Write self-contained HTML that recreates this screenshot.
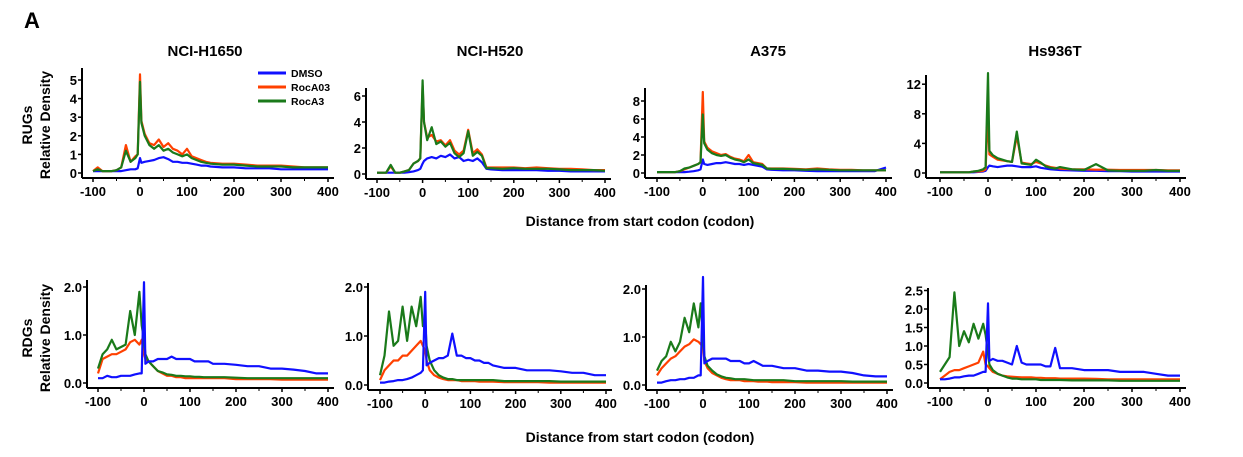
<!DOCTYPE html>
<html><head><meta charset="utf-8"><style>
body{margin:0;background:#fff;}
svg{display:block;font-family:"Liberation Sans",Arial,sans-serif;}
</style></head><body>
<svg id="fig" width="1243" height="457" viewBox="0 0 1243 457">
<text x="24" y="28" font-size="22" font-weight="bold">A</text>
<text x="640" y="226" font-size="14" font-weight="bold" text-anchor="middle">Distance from start codon (codon)</text>
<text x="640" y="442" font-size="14" font-weight="bold" text-anchor="middle">Distance from start codon (codon)</text>
<text transform="translate(32,125) rotate(-90)" font-size="14" font-weight="bold" text-anchor="middle">RUGs</text>
<text transform="translate(50,125) rotate(-90)" font-size="14" font-weight="bold" text-anchor="middle">Relative Density</text>
<text transform="translate(32,338) rotate(-90)" font-size="14" font-weight="bold" text-anchor="middle">RDGs</text>
<text transform="translate(50,338) rotate(-90)" font-size="14" font-weight="bold" text-anchor="middle">Relative Density</text>
<g>
<line x1="258" y1="73" x2="286" y2="73" stroke="#1010ff" stroke-width="3"/>
<text x="291" y="77" font-size="10.5" font-weight="bold">DMSO</text>
<line x1="258" y1="87" x2="286" y2="87" stroke="#ff4000" stroke-width="3"/>
<text x="291" y="91" font-size="10.5" font-weight="bold">RocA03</text>
<line x1="258" y1="101" x2="286" y2="101" stroke="#1a7a1a" stroke-width="3"/>
<text x="291" y="105" font-size="10.5" font-weight="bold">RocA3</text>
</g>
</svg>
<script>
const positions=[-100,-90,-80,-70,-60,-50,-40,-30,-20,-10,-5,0,3,10,20,30,40,50,60,70,80,90,100,110,120,130,140,150,175,200,225,250,275,300,325,350,375,400];
const cellLines=["NCI-H1650","NCI-H520","A375","Hs936T"];
const xTicks=[-100,0,100,200,300,400];
const yTicksTop=[[0,1,2,3,4,5],[0,2,4,6],[0,2,4,6,8],[0,4,8,12]];
const yTicksBottom=[[0,1,2],[0,1,2],[0,1,2],[0,0.5,1,1.5,2,2.5]];
const yLabelsBottom=[["0.0","1.0","2.0"],["0.0","1.0","2.0"],["0.0","1.0","2.0"],["0.0","0.5","1.0","1.5","2.0","2.5"]];
// RUGs
const t1Dmso=[0.1,0.1,0.1,0.1,0.1,0.1,0.1,0.15,0.2,0.2,0.25,0.8,0.55,0.6,0.65,0.7,0.8,0.85,0.75,0.6,0.6,0.55,0.55,0.5,0.45,0.4,0.4,0.35,0.3,0.3,0.25,0.25,0.25,0.2,0.2,0.2,0.2,0.2];
const t1RocA03=[0.1,0.3,0.1,0.1,0.1,0.15,0.3,1.5,0.6,0.9,1.0,5.3,2.8,2.1,1.6,1.5,1.8,1.4,1.6,1.3,1.2,1.0,1.3,0.9,0.8,0.7,0.6,0.55,0.5,0.5,0.45,0.4,0.4,0.4,0.35,0.3,0.3,0.3];
const t1RocA3=[0.1,0.2,0.1,0.1,0.1,0.15,0.3,1.2,0.6,0.8,1.0,4.9,2.7,2.0,1.5,1.3,1.5,1.2,1.3,1.1,1.0,0.9,1.0,0.8,0.7,0.6,0.55,0.5,0.45,0.45,0.4,0.35,0.35,0.35,0.3,0.3,0.3,0.3];
const t2Dmso=[0.1,0.1,0.1,0.1,0.1,0.1,0.1,0.15,0.2,0.3,0.4,0.8,1.0,1.2,1.3,1.2,1.4,1.3,1.5,1.2,1.3,1.0,1.1,1.0,1.2,0.9,0.4,0.35,0.3,0.3,0.3,0.3,0.25,0.25,0.2,0.2,0.2,0.2];
const t2RocA03=[0.1,0.1,0.1,0.6,0.1,0.1,0.2,0.3,0.8,1.0,1.2,6.8,4.0,2.8,3.0,2.5,2.6,2.2,2.6,1.8,1.5,1.8,3.4,1.6,1.9,1.5,0.5,0.5,0.5,0.5,0.45,0.5,0.45,0.4,0.4,0.35,0.3,0.3];
const t2RocA3=[0.1,0.1,0.1,0.7,0.1,0.1,0.2,0.3,0.8,1.0,1.2,7.2,4.0,2.6,3.6,2.3,2.5,2.1,2.4,1.6,1.3,1.6,3.3,1.4,1.7,1.4,0.45,0.45,0.4,0.45,0.4,0.4,0.4,0.35,0.3,0.3,0.3,0.25];
const t3Dmso=[0.1,0.1,0.1,0.1,0.1,0.1,0.1,0.15,0.2,0.3,0.4,1.5,1.0,0.9,1.0,1.1,1.1,1.2,1.1,1.0,1.0,0.9,1.0,0.9,0.8,0.7,0.4,0.35,0.3,0.3,0.25,0.2,0.2,0.2,0.2,0.2,0.2,0.6];
const t3RocA03=[0.1,0.1,0.1,0.1,0.1,0.2,0.4,0.6,0.8,1.0,1.2,9.0,3.5,2.8,2.4,2.2,2.0,2.1,1.8,1.6,1.5,1.3,2.0,1.2,1.1,1.0,0.5,0.5,0.5,0.45,0.4,0.5,0.4,0.35,0.35,0.3,0.3,0.3];
const t3RocA3=[0.1,0.1,0.1,0.1,0.1,0.2,0.5,0.6,0.8,1.0,1.2,6.5,3.3,2.6,2.2,2.0,1.9,2.0,1.7,1.5,1.4,1.2,1.5,1.1,1.0,0.9,0.5,0.45,0.45,0.4,0.35,0.4,0.35,0.3,0.3,0.3,0.3,0.3];
const t4Dmso=[0.1,0.1,0.1,0.1,0.1,0.1,0.1,0.1,0.15,0.2,0.3,0.8,1.0,0.9,0.8,0.9,1.0,1.0,0.9,0.8,0.8,0.8,0.9,0.7,0.6,0.5,0.45,0.4,0.35,0.3,0.3,0.25,0.25,0.2,0.2,0.2,0.2,0.2];
const t4RocA03=[0.1,0.1,0.1,0.1,0.1,0.1,0.1,0.2,0.2,0.3,0.5,8.2,2.5,2.2,1.8,1.7,1.6,1.5,5.0,1.4,1.3,1.2,1.5,1.3,1.0,0.8,0.7,0.6,0.5,0.5,0.45,0.45,0.4,0.4,0.4,0.4,0.35,0.35];
const t4RocA3=[0.1,0.1,0.1,0.1,0.1,0.1,0.1,0.2,0.3,0.5,0.8,13.5,3.0,2.4,2.0,1.8,1.6,1.5,5.6,1.3,1.2,1.1,1.8,1.4,0.9,0.7,0.6,0.8,0.5,0.4,1.2,0.35,0.3,0.3,0.3,0.4,0.3,0.3];
// RDGs
const b1Dmso=[0.1,0.1,0.15,0.12,0.12,0.15,0.15,0.15,0.18,0.2,0.2,2.1,0.4,0.45,0.45,0.5,0.5,0.5,0.55,0.5,0.5,0.5,0.5,0.45,0.45,0.45,0.45,0.4,0.4,0.38,0.35,0.35,0.3,0.3,0.28,0.25,0.2,0.2];
const b1RocA03=[0.2,0.5,0.55,0.6,0.6,0.65,0.7,0.85,0.9,0.8,0.9,0.6,0.5,0.45,0.35,0.25,0.2,0.15,0.15,0.12,0.12,0.1,0.1,0.1,0.1,0.1,0.1,0.1,0.1,0.08,0.08,0.08,0.08,0.07,0.07,0.07,0.07,0.07];
const b1RocA3=[0.3,0.6,0.7,0.9,0.7,0.75,0.8,1.5,1.0,1.9,1.2,0.9,0.6,0.45,0.35,0.25,0.22,0.18,0.17,0.15,0.15,0.14,0.14,0.13,0.13,0.12,0.12,0.12,0.12,0.11,0.1,0.1,0.1,0.1,0.1,0.1,0.1,0.1];
const b2Dmso=[0.05,0.05,0.07,0.08,0.1,0.1,0.12,0.15,0.2,0.25,0.3,1.9,0.4,0.45,0.5,0.55,0.55,0.6,1.05,0.6,0.6,0.55,0.55,0.5,0.5,0.45,0.45,0.4,0.35,0.35,0.3,0.3,0.3,0.28,0.25,0.25,0.2,0.2];
const b2RocA03=[0.1,0.3,0.4,0.5,0.5,0.6,0.6,0.7,0.8,0.9,0.8,0.7,0.5,0.3,0.2,0.15,0.12,0.1,0.1,0.1,0.08,0.08,0.08,0.08,0.07,0.07,0.07,0.07,0.06,0.06,0.06,0.06,0.05,0.05,0.05,0.05,0.05,0.05];
const b2RocA3=[0.2,0.6,1.5,0.8,0.9,1.6,0.9,1.6,1.2,1.8,1.2,1.3,0.8,0.5,0.3,0.2,0.15,0.12,0.12,0.1,0.1,0.1,0.1,0.1,0.1,0.1,0.1,0.1,0.08,0.08,0.08,0.08,0.08,0.07,0.07,0.07,0.07,0.07];
const b3Dmso=[0.05,0.05,0.08,0.1,0.1,0.12,0.12,0.15,0.15,0.2,0.2,2.25,0.45,0.5,0.55,0.55,0.55,0.55,0.5,0.5,0.5,0.45,0.45,0.5,0.45,0.4,0.4,0.4,0.35,0.35,0.3,0.3,0.28,0.28,0.25,0.2,0.18,0.18];
const b3RocA03=[0.2,0.35,0.45,0.55,0.6,0.7,0.8,0.85,0.95,0.9,0.85,0.8,0.5,0.35,0.25,0.2,0.15,0.12,0.1,0.1,0.1,0.08,0.08,0.08,0.07,0.07,0.07,0.06,0.06,0.06,0.05,0.05,0.05,0.05,0.05,0.05,0.05,0.05];
const b3RocA3=[0.3,0.5,0.6,0.9,0.7,0.9,1.4,1.1,1.7,1.2,1.7,1.0,0.6,0.4,0.3,0.22,0.18,0.15,0.14,0.12,0.12,0.12,0.11,0.1,0.1,0.1,0.1,0.1,0.1,0.08,0.08,0.08,0.08,0.08,0.07,0.07,0.07,0.07];
const b4Dmso=[0.1,0.1,0.12,0.15,0.15,0.18,0.2,0.2,0.25,0.3,0.3,2.15,0.6,0.65,0.6,0.6,0.55,0.5,1.0,0.55,0.5,0.5,0.5,0.5,0.45,0.45,0.95,0.4,0.4,0.35,0.35,0.35,0.3,0.3,0.3,0.25,0.2,0.2];
const b4RocA03=[0.1,0.2,0.3,0.35,0.35,0.4,0.45,0.5,0.55,0.85,0.5,0.45,0.4,0.3,0.25,0.2,0.18,0.17,0.16,0.15,0.15,0.15,0.14,0.14,0.13,0.13,0.13,0.12,0.12,0.12,0.11,0.1,0.1,0.1,0.1,0.1,0.1,0.1];
const b4RocA3=[0.3,0.5,0.7,2.45,1.0,1.4,1.1,1.6,1.2,1.6,1.3,0.8,0.5,0.35,0.25,0.2,0.15,0.12,0.12,0.1,0.1,0.1,0.1,0.08,0.08,0.08,0.08,0.08,0.07,0.07,0.07,0.07,0.06,0.06,0.06,0.06,0.06,0.06];

const NS='http://www.w3.org/2000/svg';
const svg=document.getElementById('fig');
const C={d:'#1010ff',o:'#ff4000',g:'#1a7a1a'};
function mk(tag,attrs,parent){const e=document.createElementNS(NS,tag);for(const k in attrs)e.setAttribute(k,attrs[k]);(parent||svg).appendChild(e);return e;}
const layout=[
 {ax:82,x0:93,x1:328,yb:173,u:18.6,top:68},{ax:366,x0:377,x1:605,yb:174,u:13,top:88},
 {ax:645,x0:657,x1:886,yb:173,u:9,top:88},{ax:926,x0:940,x1:1180,yb:173,u:7.4,top:75},
 {ax:87,x0:98,x1:328,yb:383,u:48,top:280},{ax:368,x0:380,x1:606,yb:385,u:49,top:283},
 {ax:646,x0:657,x1:887,yb:385,u:48,top:285},{ax:928,x0:940,x1:1180,yb:383,u:37,top:288}];
const titleX=[205,490,768,1055];
cellLines.forEach((n,i)=>{const t=mk('text',{x:titleX[i],y:56,'font-size':15,'font-weight':'bold','text-anchor':'middle'});


t.textContent=n;});
const series=[[t1Dmso,t1RocA03,t1RocA3],[t2Dmso,t2RocA03,t2RocA3],[t3Dmso,t3RocA03,t3RocA3],[t4Dmso,t4RocA03,t4RocA3],
[b1Dmso,b1RocA03,b1RocA3],[b2Dmso,b2RocA03,b2RocA3],[b3Dmso,b3RocA03,b3RocA3],[b4Dmso,b4RocA03,b4RocA3]];
layout.forEach((L,p)=>{
 const g=mk('g',{});
 
 
 const xs=v=>L.x0+(v+100)*(L.x1-L.x0)/500;
 const ys=v=>L.yb-v*L.u;
 const by=L.yb+5;
 const order=p<4?[0,1,2]:[1,2,0];
 order.forEach(si=>{
  const d=series[p][si].map((v,i)=>(i?'L':'M')+xs(positions[i]).toFixed(1)+' '+ys(v).toFixed(1)).join(' ');
  const path=mk('path',{d:d,fill:'none',stroke:[C.d,C.o,C.g][si],'stroke-width':2.2,'stroke-linejoin':'round'},g);
  
  
 });
 mk('line',{x1:L.ax,y1:L.top,x2:L.ax,y2:by,stroke:'#000','stroke-width':2},g);
 mk('line',{x1:L.ax,y1:by,x2:L.x1+6,y2:by,stroke:'#000','stroke-width':2},g);
 xTicks.forEach(v=>{
  mk('line',{x1:xs(v),y1:by,x2:xs(v),y2:by+4,stroke:'#000','stroke-width':1.5},g);
  if(v<400) mk('line',{x1:xs(v+50),y1:by,x2:xs(v+50),y2:by+3,stroke:'#000','stroke-width':1},g);
  const t=mk('text',{x:xs(v),y:by+18,'font-size':13,'font-weight':'bold','text-anchor':'middle'},g);
  
  
  t.textContent=v;
 });
 const yt=p<4?yTicksTop[p]:yTicksBottom[p-4];
 yt.forEach((v,i)=>{
  mk('line',{x1:L.ax-4,y1:ys(v),x2:L.ax,y2:ys(v),stroke:'#000','stroke-width':1.5},g);
  const t=mk('text',{x:L.ax-5,y:ys(v)+5,'font-size':13,'font-weight':'bold','text-anchor':'end'},g);
  
  
  t.textContent=p<4?v:yLabelsBottom[p-4][i];
 });
});
</script>
</body></html>
